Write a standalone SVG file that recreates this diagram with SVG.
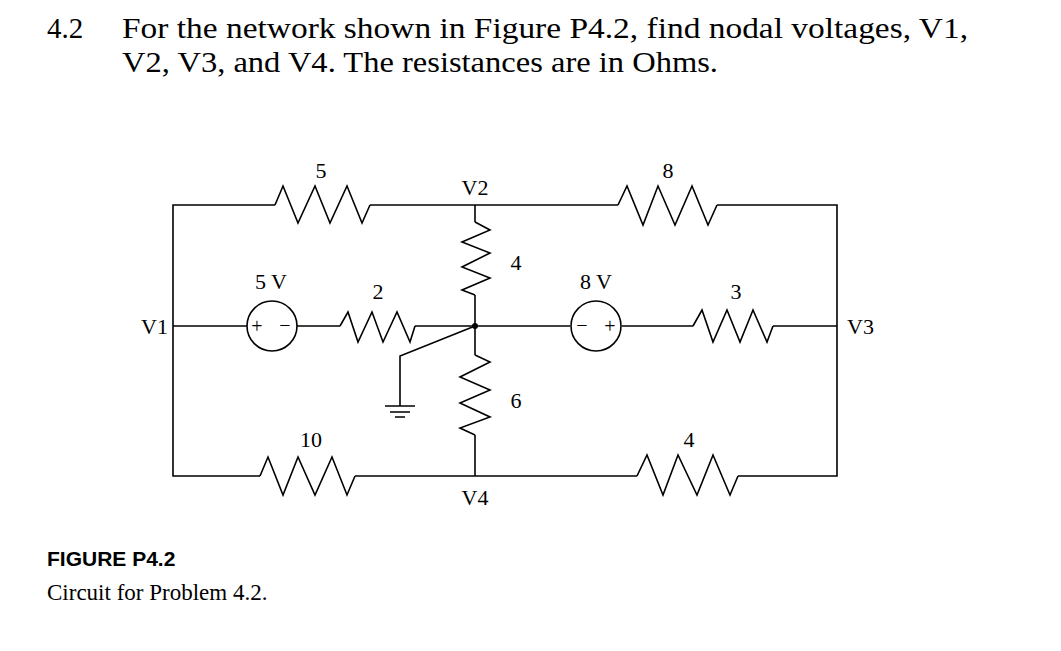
<svg xmlns="http://www.w3.org/2000/svg" width="1061" height="651" viewBox="0 0 1061 651">
<style>
.w{fill:none;stroke:#000;stroke-width:1.6;stroke-linejoin:miter}
.t{font-family:"Liberation Serif",serif;font-size:22px;fill:#000}
.c{text-anchor:middle}
</style>
<rect width="1061" height="651" fill="#fff"/>
<text class="t" x="47" y="38" style="font-size:29px">4.2</text>
<text class="t" x="122" y="38" style="font-size:29px" textLength="846" lengthAdjust="spacingAndGlyphs">For the network shown in Figure P4.2, find nodal voltages, V1,</text>
<text class="t" x="122" y="72" style="font-size:29px" textLength="596" lengthAdjust="spacingAndGlyphs">V2, V3, and V4. The resistances are in Ohms.</text>
<g id="connectors">
<path class="w" d="M275,205 H173 V476 H260"/>
<path class="w" d="M370,205 H618"/>
<path class="w" d="M717,205 H837 V476 H738"/>
<path class="w" d="M355,476 H637"/>
<path class="w" d="M173,326 H247"/>
<path class="w" d="M297,326 H340"/>
<path class="w" d="M415,326 H570"/>
<path class="w" d="M622,326 H693"/>
<path class="w" d="M773,326 H837"/>
<path class="w" d="M475,205 V222"/>
<path class="w" d="M475,295 V355"/>
<path class="w" d="M475,435 V476"/>
<path class="w" d="M475,326 L400,356 V406"/>
</g>
<g id="R5"><path class="w" d="M275,205 L283,186 298,223 315,186 330,223 347,186 362,223 370,205"/><text class="t c" x="321" y="178">5</text></g>
<g id="R10"><path class="w" d="M260,476 L268,457 283,495 298,457 315,495 332,457 347,495 355,476"/><text class="t c" x="311" y="447">10</text></g>
<g id="R4v"><path class="w" d="M475,222 L490,230 462,242 490,253 462,267 490,278 462,290 475,295"/><text class="t c" x="516" y="270">4</text></g>
<g id="R6"><path class="w" d="M475,355 L490,362 460,377 490,390 460,403 490,417 460,428 475,435"/><text class="t c" x="516" y="408">6</text></g>
<g id="R2"><path class="w" d="M340,326 L348,312 358,342 372,312 383,342 397,312 410,342 415,326"/><text class="t c" x="378" y="299">2</text></g>
<g id="R8"><path class="w" d="M618,205 L627,186 643,225 658,186 675,225 692,186 708,225 717,205"/><text class="t c" x="668" y="178">8</text></g>
<g id="R3"><path class="w" d="M693,326 L702,310 713,342 727,310 740,342 753,310 767,342 773,326"/><text class="t c" x="736" y="299">3</text></g>
<g id="R4b"><path class="w" d="M637,476 L647,455 663,495 678,455 697,495 713,455 730,495 738,476"/><text class="t c" x="689" y="447">4</text></g>
<g id="S5"><circle class="w" cx="272" cy="326" r="25"/><text class="t c" x="257" y="333" style="font-size:20px">+</text><text class="t c" x="285" y="332" style="font-size:20px">−</text><text class="t c" x="271" y="289">5 V</text></g>
<g id="S8"><circle class="w" cx="596" cy="326" r="25"/><text class="t c" x="582" y="332" style="font-size:20px">−</text><text class="t c" x="610" y="333" style="font-size:20px">+</text><text class="t c" x="596" y="289">8 V</text></g>
<g id="GND"><path class="w" d="M385,406 H415 M390,412 H410 M395,417 H405"/></g>
<g id="N"><circle cx="475" cy="326" r="3"/></g>
<text class="t" x="168" y="334" text-anchor="end">V1</text>
<text class="t c" x="475" y="195">V2</text>
<text class="t" x="847" y="334">V3</text>
<text class="t c" x="475" y="505">V4</text>
<text x="47" y="566" style="font-family:'Liberation Sans',sans-serif;font-weight:bold;font-size:21px">FIGURE P4.2</text>
<text class="t" x="47" y="600" style="font-size:23px">Circuit for Problem 4.2.</text>
</svg>
